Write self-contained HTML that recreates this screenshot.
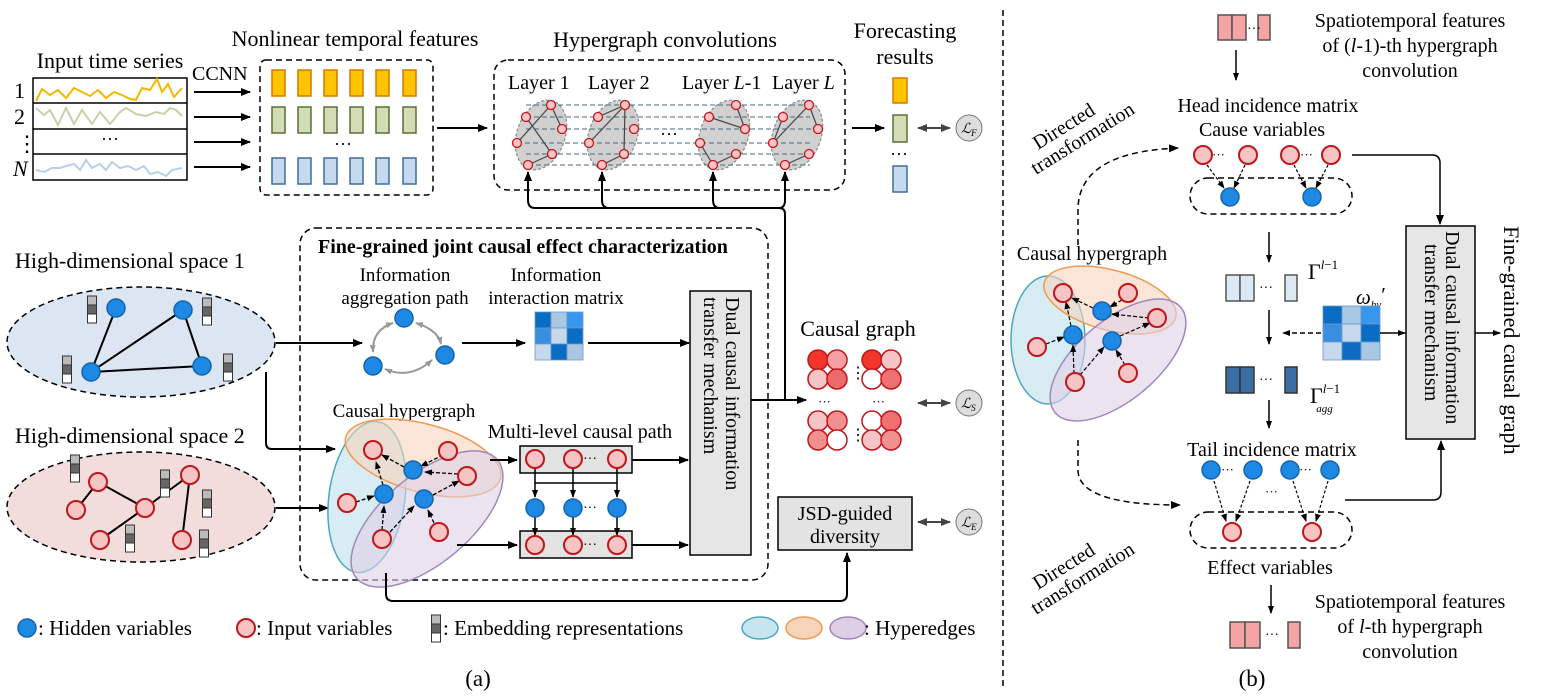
<!DOCTYPE html>
<html><head><meta charset="utf-8"><style>
html,body{margin:0;padding:0;background:#fff}
svg{display:block;font-family:"Liberation Serif",serif}
</style></head><body>
<svg width="1544" height="700" viewBox="0 0 1544 700" xmlns="http://www.w3.org/2000/svg">
<defs>
<marker id="a" markerWidth="10" markerHeight="8" refX="9" refY="4" orient="auto" markerUnits="userSpaceOnUse"><path d="M0,0 L10,4 L0,8 Z" fill="#000"/></marker>
<marker id="as" markerWidth="8" markerHeight="6" refX="7" refY="3" orient="auto" markerUnits="userSpaceOnUse"><path d="M0,0 L8,3 L0,6 Z" fill="#000"/></marker>
<marker id="ag" markerWidth="8" markerHeight="6" refX="7" refY="3" orient="auto-start-reverse" markerUnits="userSpaceOnUse"><path d="M0,0 L8,3 L0,6 Z" fill="#999"/></marker>
<marker id="ad" markerWidth="10" markerHeight="8" refX="9" refY="4" orient="auto-start-reverse" markerUnits="userSpaceOnUse"><path d="M0,0 L10,4 L0,8 Z" fill="#444"/></marker>
<g id="rn"><circle r="9" fill="#f6c4c4" stroke="#c0161c" stroke-width="2"/></g>
<g id="bn"><circle r="9" fill="#1e88e5" stroke="#1565a8" stroke-width="1.5"/></g>
<g id="sn"><circle r="4.5" fill="#f6c4c4" stroke="#c0161c" stroke-width="1.3"/></g>
<g id="emb"><rect x="-4.5" y="0" width="9" height="9" fill="#bbb" stroke="#333"/><rect x="-4.5" y="9" width="9" height="9" fill="#666" stroke="#333"/><rect x="-4.5" y="18" width="9" height="9" fill="#fff" stroke="#333"/></g>
</defs>
<g font-size="22" fill="#000">
<text x="110" y="68" text-anchor="middle">Input time series</text>
<rect x="33" y="78" width="154" height="102" fill="#fff" stroke="#000" stroke-width="1.5"/>
<line x1="33" y1="103" x2="187" y2="103" stroke="#000" stroke-width="1.5"/>
<line x1="33" y1="129" x2="187" y2="129" stroke="#000" stroke-width="1.5"/>
<line x1="33" y1="154" x2="187" y2="154" stroke="#000" stroke-width="1.5"/>
<polyline points="36,101 42,89 50,95 58,90 66,98 74,88 82,92 90,96 98,90 106,98 114,92 122,95 130,99 136,100 142,88 150,90 157,79 162,92 168,84 174,97 182,88" fill="none" stroke="#f5b700" stroke-width="2"/>
<polyline points="36,108 44,115 50,110 58,125 66,108 74,124 82,110 92,124 100,112 110,124 120,112 126,108 136,114 146,116 156,112 164,114 170,108 176,110 182,116" fill="none" stroke="#c5d2a8" stroke-width="2"/>
<polyline points="36,170 44,172 52,168 60,168 66,166 74,164 80,170 86,160 92,168 100,164 106,170 112,162 120,168 128,166 136,170 144,166 150,174 158,172 166,176 172,170 182,168" fill="none" stroke="#b8d0e8" stroke-width="2"/>
<text x="101" y="145" font-size="18">···</text>
<text x="14" y="98">1</text><text x="14" y="124">2</text><text x="16" y="151">⋮</text>
<text x="13" y="176" font-style="italic">N</text>
<text x="192" y="80" font-size="20">CCNN</text>
<line x1="194" y1="92" x2="250" y2="92" stroke="#000" stroke-width="2" marker-end="url(#a)"/>
<line x1="194" y1="117" x2="250" y2="117" stroke="#000" stroke-width="2" marker-end="url(#a)"/>
<line x1="194" y1="142" x2="250" y2="142" stroke="#000" stroke-width="2" marker-end="url(#a)"/>
<line x1="194" y1="167" x2="250" y2="167" stroke="#000" stroke-width="2" marker-end="url(#a)"/>
<text x="355" y="46" text-anchor="middle">Nonlinear temporal features</text>
<rect x="260" y="60" width="173" height="135" rx="6" fill="none" stroke="#000" stroke-width="1.5" stroke-dasharray="6,4"/>
<g stroke-width="1.5">
<g fill="#ffc400" stroke="#d67a00"><rect x="272" y="70" width="13" height="26"/><rect x="298" y="70" width="13" height="26"/><rect x="324" y="70" width="13" height="26"/><rect x="350" y="70" width="13" height="26"/><rect x="376" y="70" width="13" height="26"/><rect x="403" y="70" width="13" height="26"/></g>
<g fill="#d2dcb5" stroke="#5b6e3a"><rect x="272" y="107" width="13" height="26"/><rect x="298" y="107" width="13" height="26"/><rect x="324" y="107" width="13" height="26"/><rect x="350" y="107" width="13" height="26"/><rect x="376" y="107" width="13" height="26"/><rect x="403" y="107" width="13" height="26"/></g>
<g fill="#c5d9ef" stroke="#3f6e9e"><rect x="272" y="158" width="13" height="26"/><rect x="298" y="158" width="13" height="26"/><rect x="324" y="158" width="13" height="26"/><rect x="350" y="158" width="13" height="26"/><rect x="376" y="158" width="13" height="26"/><rect x="403" y="158" width="13" height="26"/></g>
</g>
<text x="334" y="150" font-size="18">···</text>
<line x1="437" y1="128" x2="487" y2="128" stroke="#000" stroke-width="2" marker-end="url(#a)"/>
<text x="665" y="47" text-anchor="middle">Hypergraph convolutions</text>
<rect x="494" y="60" width="351" height="130" rx="14" fill="none" stroke="#000" stroke-width="1.5" stroke-dasharray="6,4"/>
<g font-size="20">
<text x="508" y="89">Layer 1</text><text x="588" y="89">Layer 2</text>
<text x="682" y="89">Layer <tspan font-style="italic">L</tspan>-1</text><text x="772" y="89">Layer <tspan font-style="italic">L</tspan></text>
</g>
<g fill="#d0d0d0" stroke="#888" stroke-dasharray="3,2" stroke-width="1.2">
<ellipse cx="541" cy="135" rx="24" ry="36" transform="rotate(20 541 135)"/>
<ellipse cx="613" cy="135" rx="24" ry="36" transform="rotate(20 613 135)"/>
<ellipse cx="724" cy="135" rx="24" ry="36" transform="rotate(20 724 135)"/>
<ellipse cx="797" cy="135" rx="24" ry="36" transform="rotate(20 797 135)"/>
</g>
<g stroke="#3f6e7e" stroke-dasharray="5,3" stroke-width="1">
<line x1="526" y1="105" x2="810" y2="105"/><line x1="526" y1="117" x2="810" y2="117"/><line x1="526" y1="129" x2="818" y2="129"/><line x1="517" y1="143" x2="810" y2="143"/><line x1="526" y1="154" x2="810" y2="154"/><line x1="528" y1="165" x2="810" y2="165"/>
</g>
<g stroke="#444" stroke-width="1.2">
<line x1="526" y1="117" x2="552" y2="154"/><line x1="551" y1="105" x2="517" y2="143"/><line x1="551" y1="105" x2="562" y2="129"/><line x1="552" y1="154" x2="528" y2="165"/>
<line x1="598" y1="117" x2="625" y2="105"/><line x1="625" y1="105" x2="589" y2="143"/><line x1="625" y1="105" x2="624" y2="154"/><line x1="624" y1="154" x2="602" y2="165"/>
<line x1="709" y1="117" x2="745" y2="129"/><line x1="736" y1="105" x2="745" y2="129"/><line x1="700" y1="143" x2="713" y2="165"/><line x1="736" y1="154" x2="713" y2="165"/>
<line x1="773" y1="143" x2="809" y2="105"/><line x1="783" y1="117" x2="773" y2="143"/><line x1="809" y1="105" x2="818" y2="129"/><line x1="809" y1="154" x2="785" y2="165"/>
</g>
<g>
<use href="#sn" x="551" y="105"/><use href="#sn" x="526" y="117"/><use href="#sn" x="562" y="129"/><use href="#sn" x="517" y="143"/><use href="#sn" x="552" y="154"/><use href="#sn" x="528" y="165"/>
<use href="#sn" x="625" y="105"/><use href="#sn" x="598" y="117"/><use href="#sn" x="634" y="129"/><use href="#sn" x="589" y="143"/><use href="#sn" x="624" y="154"/><use href="#sn" x="602" y="165"/>
<use href="#sn" x="736" y="105"/><use href="#sn" x="709" y="117"/><use href="#sn" x="745" y="129"/><use href="#sn" x="700" y="143"/><use href="#sn" x="736" y="154"/><use href="#sn" x="713" y="165"/>
<use href="#sn" x="809" y="105"/><use href="#sn" x="783" y="117"/><use href="#sn" x="818" y="129"/><use href="#sn" x="773" y="143"/><use href="#sn" x="809" y="154"/><use href="#sn" x="785" y="165"/>
</g>
<text x="660" y="140" font-size="18">···</text>
<text x="905" y="38" text-anchor="middle">Forecasting</text><text x="905" y="64" text-anchor="middle">results</text>
<rect x="893" y="78" width="14" height="25" fill="#ffc400" stroke="#d67a00" stroke-width="1.5"/>
<rect x="893" y="115" width="14" height="27" fill="#d2dcb5" stroke="#5b6e3a" stroke-width="1.5"/>
<text x="890" y="160" font-size="18">···</text>
<rect x="893" y="166" width="14" height="26" fill="#c5d9ef" stroke="#3f6e9e" stroke-width="1.5"/>
<line x1="852" y1="128" x2="884" y2="128" stroke="#000" stroke-width="2" marker-end="url(#a)"/>
<line x1="918" y1="128" x2="950" y2="128" stroke="#444" stroke-width="2" marker-start="url(#ad)" marker-end="url(#ad)"/>
<circle cx="969" cy="128" r="13" fill="#ddd" stroke="#777"/><text x="961" y="133" font-size="14" font-style="italic">ℒ<tspan font-size="9" dy="3">F</tspan></text>
<g fill="none" stroke="#000" stroke-width="2">
<path d="M785,400 V214 Q785,208 779,208 H720 Q713,208 713,200 V172" marker-end="url(#a)"/>
<path d="M779,208 Q785,208 785,200 V172" marker-end="url(#a)"/>
<path d="M720,208 H609 Q602,208 602,200 V172" marker-end="url(#a)"/>
<path d="M609,208 H535 Q528,208 528,200 V172" marker-end="url(#a)"/>
</g>
<text x="15" y="268">High-dimensional space 1</text>
<ellipse cx="141" cy="342" rx="134" ry="55" fill="#dce6f2" stroke="#000" stroke-width="1.5" stroke-dasharray="6,4"/>
<g stroke="#000" stroke-width="2"><line x1="116" y1="308" x2="91" y2="372"/><line x1="91" y1="372" x2="183" y2="310"/><line x1="183" y1="310" x2="202" y2="366"/><line x1="91" y1="372" x2="202" y2="366"/></g>
<use href="#bn" x="116" y="308"/><use href="#bn" x="183" y="310"/><use href="#bn" x="91" y="372"/><use href="#bn" x="202" y="366"/>
<use href="#emb" x="92" y="296"/><use href="#emb" x="207" y="298"/><use href="#emb" x="67" y="356"/><use href="#emb" x="228" y="354"/>
<text x="15" y="443">High-dimensional space 2</text>
<ellipse cx="141" cy="507" rx="134" ry="55" fill="#f3dcdc" stroke="#000" stroke-width="1.5" stroke-dasharray="6,4"/>
<g stroke="#000" stroke-width="2"><line x1="98" y1="482" x2="76" y2="510"/><line x1="98" y1="482" x2="145" y2="508"/><line x1="145" y1="508" x2="190" y2="475"/><line x1="190" y1="475" x2="182" y2="540"/><line x1="145" y1="508" x2="100" y2="540"/></g>
<use href="#rn" x="98" y="482"/><use href="#rn" x="76" y="510"/><use href="#rn" x="145" y="508"/><use href="#rn" x="190" y="475"/><use href="#rn" x="182" y="540"/><use href="#rn" x="100" y="540"/>
<use href="#emb" x="75" y="455"/><use href="#emb" x="165" y="470"/><use href="#emb" x="207" y="490"/><use href="#emb" x="130" y="525"/><use href="#emb" x="204" y="530"/>
<line x1="276" y1="343" x2="362" y2="343" stroke="#000" stroke-width="2" marker-end="url(#a)"/>
<path d="M266,372 V443 Q266,449 272,449 H335" fill="none" stroke="#000" stroke-width="2" marker-end="url(#a)"/>
<line x1="276" y1="508" x2="328" y2="508" stroke="#000" stroke-width="2" marker-end="url(#a)"/>
<rect x="300" y="228" width="468" height="352" rx="16" fill="none" stroke="#000" stroke-width="1.5" stroke-dasharray="6,4"/>
<text x="318" y="253" font-weight="bold" font-size="20">Fine-grained joint causal effect characterization</text>
<g font-size="19">
<text x="405" y="281" text-anchor="middle">Information</text>
<text x="405" y="304" text-anchor="middle">aggregation path</text>
<text x="556" y="281" text-anchor="middle">Information</text>
<text x="556" y="304" text-anchor="middle">interaction matrix</text>
</g>
<g fill="none" stroke="#999" stroke-width="2">
<path d="M393,323 Q372,330 373,352" marker-start="url(#ag)" marker-end="url(#ag)"/>
<path d="M416,323 Q438,330 441,344" marker-start="url(#ag)" marker-end="url(#ag)"/>
<path d="M385,369 Q410,380 432,360" marker-start="url(#ag)" marker-end="url(#ag)"/>
</g>
<use href="#bn" x="404" y="318"/><use href="#bn" x="373" y="366"/><use href="#bn" x="445" y="355"/>
<g stroke="#6a98c8" stroke-width="0.8">
<rect x="535" y="312" width="16" height="16" fill="#0b6cc4"/><rect x="551" y="312" width="16" height="16" fill="#a8c8e4"/><rect x="567" y="312" width="16" height="16" fill="#3897ec"/>
<rect x="535" y="328" width="16" height="16" fill="#3a8ee0"/><rect x="551" y="328" width="16" height="16" fill="#c6d9ec"/><rect x="567" y="328" width="16" height="16" fill="#0b6cc4"/>
<rect x="535" y="344" width="16" height="16" fill="#c6d9ec"/><rect x="551" y="344" width="16" height="16" fill="#0b6cc4"/><rect x="567" y="344" width="16" height="16" fill="#a8c8e4"/>
</g>
<line x1="462" y1="343" x2="525" y2="343" stroke="#000" stroke-width="2" marker-end="url(#a)"/>
<line x1="588" y1="343" x2="689" y2="343" stroke="#000" stroke-width="2" marker-end="url(#a)"/>
<rect x="690" y="291" width="61" height="264" fill="#e6e6e6" stroke="#000" stroke-width="1.5"/>
<text transform="translate(726,297) rotate(90)" font-size="20">Dual causal information</text>
<text transform="translate(704,297) rotate(90)" font-size="20">transfer mechanism</text>
<text x="404" y="417" font-size="19" text-anchor="middle">Causal hypergraph</text>
<g stroke-width="1.5">
<ellipse cx="367" cy="497" rx="38" ry="76" fill="#c8e4ee" fill-opacity="0.7" stroke="#4aa8c0" transform="rotate(8 367 497)"/>
<ellipse cx="423" cy="458" rx="80" ry="34" fill="#f6d4bc" fill-opacity="0.6" stroke="#f09a50" transform="rotate(15 423 458)"/>
<ellipse cx="427" cy="519" rx="92" ry="44" fill="#ddd0e6" fill-opacity="0.6" stroke="#a088bc" transform="rotate(-40 427 519)"/>
</g>
<g stroke="#000" stroke-width="1.3" stroke-dasharray="4,2" fill="none">
<line x1="404" y1="467" x2="382" y2="455" marker-end="url(#as)"/>
<line x1="443" y1="455" x2="421" y2="466" marker-end="url(#as)"/>
<line x1="458" y1="474" x2="425" y2="472" marker-end="url(#as)"/>
<line x1="383" y1="485" x2="376" y2="462" marker-end="url(#as)"/>
<line x1="356" y1="502" x2="374" y2="496" marker-end="url(#as)"/>
<line x1="382" y1="530" x2="384" y2="506" marker-end="url(#as)"/>
<line x1="390" y1="532" x2="414" y2="506" marker-end="url(#as)"/>
<line x1="433" y1="495" x2="459" y2="481" marker-end="url(#as)"/>
<line x1="434" y1="523" x2="428" y2="510" marker-end="url(#as)"/>
</g>
<use href="#rn" x="373" y="450"/><use href="#rn" x="448" y="451"/><use href="#rn" x="467" y="476"/><use href="#rn" x="347" y="503"/><use href="#rn" x="382" y="539"/><use href="#rn" x="439" y="532"/>
<use href="#bn" x="413" y="470"/><use href="#bn" x="384" y="494"/><use href="#bn" x="424" y="499"/>
<text x="580" y="438" font-size="20" text-anchor="middle">Multi-level causal path</text>
<rect x="520" y="446" width="112" height="27" fill="#e3e3e3" stroke="#000" stroke-width="1.5"/>
<rect x="520" y="531" width="112" height="27" fill="#e3e3e3" stroke="#000" stroke-width="1.5"/>
<g stroke="#000" stroke-width="1.5">
<line x1="535" y1="468" x2="535" y2="497" marker-end="url(#as)"/><line x1="573" y1="468" x2="573" y2="497" marker-end="url(#as)"/><line x1="617" y1="468" x2="617" y2="497" marker-end="url(#as)"/>
<line x1="535" y1="483" x2="617" y2="483"/>
<line x1="535" y1="517" x2="535" y2="535" marker-end="url(#as)"/><line x1="573" y1="517" x2="573" y2="535" marker-end="url(#as)"/><line x1="617" y1="517" x2="617" y2="535" marker-end="url(#as)"/>
</g>
<use href="#rn" x="535" y="459"/><use href="#rn" x="573" y="459"/><use href="#rn" x="617" y="459"/>
<use href="#bn" x="535" y="508"/><use href="#bn" x="573" y="508"/><use href="#bn" x="617" y="508"/>
<use href="#rn" x="535" y="545"/><use href="#rn" x="573" y="545"/><use href="#rn" x="617" y="545"/>
<text x="583" y="463" font-size="14">···</text><text x="583" y="512" font-size="14">···</text><text x="583" y="549" font-size="14">···</text>
<line x1="490" y1="460" x2="517" y2="460" stroke="#000" stroke-width="2" marker-end="url(#a)"/>
<line x1="457" y1="545" x2="517" y2="545" stroke="#000" stroke-width="2" marker-end="url(#a)"/>
<line x1="632" y1="460" x2="688" y2="460" stroke="#000" stroke-width="2" marker-end="url(#a)"/>
<line x1="632" y1="545" x2="688" y2="545" stroke="#000" stroke-width="2" marker-end="url(#a)"/>
<line x1="751" y1="400" x2="806" y2="400" stroke="#000" stroke-width="2" marker-end="url(#a)"/>
<text x="858" y="336" text-anchor="middle">Causal graph</text>
<g stroke="#c0161c" stroke-width="1.5">
<circle cx="818" cy="360" r="10" fill="#f2362c"/><circle cx="837" cy="360" r="10" fill="#f4a0a0"/><circle cx="818" cy="379" r="10" fill="#f6c4c4"/><circle cx="837" cy="379" r="10" fill="#ee6a6a"/>
<circle cx="872" cy="360" r="10" fill="#f2362c"/><circle cx="891" cy="360" r="10" fill="#f6c4c4"/><circle cx="872" cy="379" r="10" fill="#fff"/><circle cx="891" cy="379" r="10" fill="#ee7070"/>
<circle cx="818" cy="421" r="10" fill="#f6c4c4"/><circle cx="837" cy="421" r="10" fill="#f29090"/><circle cx="818" cy="440" r="10" fill="#f29090"/><circle cx="837" cy="440" r="10" fill="#fff"/>
<circle cx="872" cy="421" r="10" fill="#fff"/><circle cx="891" cy="421" r="10" fill="#ee7070"/><circle cx="872" cy="440" r="10" fill="#f6c4c4"/><circle cx="891" cy="440" r="10" fill="#f29090"/>
</g>
<text x="850" y="378" font-size="16">⋮</text><text x="850" y="440" font-size="16">⋮</text>
<text x="818" y="406" font-size="13">···</text><text x="872" y="406" font-size="13">···</text>
<line x1="918" y1="403" x2="950" y2="403" stroke="#444" stroke-width="2" marker-start="url(#ad)" marker-end="url(#ad)"/>
<circle cx="969" cy="403" r="13" fill="#ddd" stroke="#777"/><text x="961" y="408" font-size="14" font-style="italic">ℒ<tspan font-size="9" dy="3">S</tspan></text>
<rect x="778" y="497" width="134" height="53" fill="#e3e3e3" stroke="#000" stroke-width="1.5"/>
<text x="845" y="520" text-anchor="middle" font-size="20">JSD-guided</text>
<text x="845" y="543" text-anchor="middle" font-size="20">diversity</text>
<line x1="918" y1="522" x2="950" y2="522" stroke="#444" stroke-width="2" marker-start="url(#ad)" marker-end="url(#ad)"/>
<circle cx="969" cy="522" r="13" fill="#ddd" stroke="#777"/><text x="961" y="527" font-size="14" font-style="italic">ℒ<tspan font-size="9" dy="3">E</tspan></text>
<path d="M386,573 V594 Q386,601 393,601 H840 Q847,601 847,594 V553" fill="none" stroke="#000" stroke-width="2" marker-end="url(#a)"/>
<g font-size="21">
<use href="#bn" x="27" y="628"/><text x="38" y="635">: Hidden variables</text>
<use href="#rn" x="246" y="628"/><text x="256" y="635">: Input variables</text>
<use href="#emb" x="436" y="615"/><text x="443" y="635">: Embedding representations</text>
</g>
<ellipse cx="760" cy="628" rx="18" ry="11" fill="#c8e4ee" stroke="#4aa8c0" stroke-width="1.5"/>
<ellipse cx="804" cy="628" rx="18" ry="11" fill="#f6d4bc" stroke="#f09a50" stroke-width="1.5"/>
<ellipse cx="848" cy="628" rx="18" ry="11" fill="#ddd0e6" stroke="#a088bc" stroke-width="1.5"/>
<text x="864" y="635" font-size="21">: Hyperedges</text>
<text x="478" y="686" font-size="23" text-anchor="middle">(a)</text>
<line x1="1003" y1="10" x2="1003" y2="690" stroke="#000" stroke-width="1.5" stroke-dasharray="6,4"/>
<g font-size="20">
<g fill="#f4a4a4" stroke="#555" stroke-width="1.5"><rect x="1218" y="15" width="14" height="25"/><rect x="1232" y="15" width="14" height="25"/><rect x="1258" y="15" width="12" height="25"/></g>
<text x="1247" y="33" font-size="14">···</text>
<text x="1410" y="27" text-anchor="middle">Spatiotemporal features</text>
<text x="1410" y="52" text-anchor="middle">of (<tspan font-style="italic">l</tspan>-1)-th hypergraph</text>
<text x="1410" y="77" text-anchor="middle">convolution</text>
<line x1="1236" y1="50" x2="1236" y2="80" stroke="#000" stroke-width="1.5" marker-end="url(#as)"/>
<text x="1268" y="112" text-anchor="middle">Head incidence matrix</text>
<text x="1262" y="136" text-anchor="middle">Cause variables</text>
<text transform="translate(1038,150) rotate(-32)">Directed</text>
<text transform="translate(1036,175) rotate(-32)">transformation</text>
<path d="M1078,245 V210 Q1078,152 1178,148" fill="none" stroke="#000" stroke-width="1.5" stroke-dasharray="6,4" marker-end="url(#a)"/>
<use href="#rn" x="1203" y="155"/><use href="#rn" x="1248" y="155"/><use href="#rn" x="1290" y="155"/><use href="#rn" x="1331" y="155"/>
<text x="1212" y="159" font-size="13">···</text><text x="1300" y="159" font-size="13">···</text><text x="1262" y="182" font-size="13">···</text>
<rect x="1190" y="178" width="162" height="36" rx="18" fill="none" stroke="#000" stroke-width="1.5" stroke-dasharray="6,4"/>
<g stroke="#000" stroke-width="1.2" stroke-dasharray="3,2"><line x1="1207" y1="165" x2="1224" y2="188" marker-end="url(#as)"/><line x1="1245" y1="165" x2="1234" y2="188" marker-end="url(#as)"/><line x1="1294" y1="165" x2="1306" y2="188" marker-end="url(#as)"/><line x1="1328" y1="165" x2="1316" y2="188" marker-end="url(#as)"/></g>
<use href="#bn" x="1230" y="197"/><use href="#bn" x="1312" y="197"/>
<path d="M1352,155 H1432 Q1440,155 1440,163 V224" fill="none" stroke="#000" stroke-width="1.5" marker-end="url(#a)"/>
<text x="1092" y="260" text-anchor="middle">Causal hypergraph</text>
<g stroke-width="1.5">
<ellipse cx="1048" cy="340" rx="37" ry="64" fill="#c8e4ee" fill-opacity="0.7" stroke="#4aa8c0"/>
<ellipse cx="1110" cy="300" rx="68" ry="30" fill="#f6d4bc" fill-opacity="0.6" stroke="#f09a50" transform="rotate(15 1110 300)"/>
<ellipse cx="1118" cy="360" rx="82" ry="40" fill="#ddd0e6" fill-opacity="0.6" stroke="#a088bc" transform="rotate(-40 1118 360)"/>
</g>
<g stroke="#000" stroke-width="1.2" stroke-dasharray="4,2"><line x1="1093" y1="308" x2="1072" y2="298" marker-end="url(#as)"/><line x1="1122" y1="300" x2="1110" y2="307" marker-end="url(#as)"/><line x1="1149" y1="318" x2="1112" y2="314" marker-end="url(#as)"/><line x1="1071" y1="326" x2="1066" y2="302" marker-end="url(#as)"/><line x1="1046" y1="344" x2="1064" y2="337" marker-end="url(#as)"/><line x1="1074" y1="374" x2="1073" y2="345" marker-end="url(#as)"/><line x1="1080" y1="375" x2="1104" y2="347" marker-end="url(#as)"/><line x1="1120" y1="336" x2="1150" y2="323" marker-end="url(#as)"/><line x1="1125" y1="365" x2="1116" y2="350" marker-end="url(#as)"/></g>
<use href="#rn" x="1063" y="293"/><use href="#rn" x="1128" y="293"/><use href="#rn" x="1157" y="318"/><use href="#rn" x="1037" y="347"/><use href="#rn" x="1075" y="382"/><use href="#rn" x="1128" y="373"/>
<use href="#bn" x="1102" y="311"/><use href="#bn" x="1073" y="335"/><use href="#bn" x="1112" y="341"/>
<path d="M1078,440 V470 Q1078,505 1180,505" fill="none" stroke="#000" stroke-width="1.5" stroke-dasharray="6,4" marker-end="url(#a)"/>
<text transform="translate(1038,590) rotate(-32)">Directed</text>
<text transform="translate(1036,615) rotate(-32)">transformation</text>
<line x1="1269" y1="232" x2="1269" y2="262" stroke="#000" stroke-width="1.5" marker-end="url(#as)"/>
<g fill="#dce8f4" stroke="#555" stroke-width="1.5"><rect x="1226" y="275" width="14" height="26"/><rect x="1240" y="275" width="14" height="26"/><rect x="1285" y="275" width="12" height="26"/></g>
<text x="1259" y="292" font-size="14">···</text>
<text x="1308" y="279" font-size="22">Γ<tspan font-size="13" dy="-10" font-style="italic">l</tspan><tspan font-size="13">−1</tspan></text>
<line x1="1269" y1="310" x2="1269" y2="344" stroke="#000" stroke-width="1.5" marker-end="url(#as)"/>
<text x="1356" y="304" font-size="21" font-style="italic">ω<tspan font-size="11" dy="4">hv</tspan><tspan dy="-6" font-style="normal">′</tspan></text>
<g stroke="#6a98c8" stroke-width="0.8">
<rect x="1323" y="306" width="19" height="18" fill="#0b6cc4"/><rect x="1342" y="306" width="19" height="18" fill="#a8c8e4"/><rect x="1361" y="306" width="19" height="18" fill="#3897ec"/>
<rect x="1323" y="324" width="19" height="18" fill="#3a8ee0"/><rect x="1342" y="324" width="19" height="18" fill="#c6d9ec"/><rect x="1361" y="324" width="19" height="18" fill="#0b6cc4"/>
<rect x="1323" y="342" width="19" height="18" fill="#c6d9ec"/><rect x="1342" y="342" width="19" height="18" fill="#0b6cc4"/><rect x="1361" y="342" width="19" height="18" fill="#a8c8e4"/>
</g>
<line x1="1321" y1="333" x2="1283" y2="333" stroke="#000" stroke-width="1.5" stroke-dasharray="5,3" marker-end="url(#as)"/>
<line x1="1380" y1="333" x2="1405" y2="333" stroke="#000" stroke-width="1.5" marker-end="url(#as)"/>
<g fill="#3a6ea5" stroke="#333" stroke-width="1.5"><rect x="1226" y="367" width="14" height="26"/><rect x="1240" y="367" width="14" height="26"/><rect x="1285" y="367" width="12" height="26"/></g>
<text x="1259" y="384" font-size="14">···</text>
<text x="1310" y="403" font-size="22">Γ<tspan font-size="13" dy="-10" font-style="italic">l</tspan><tspan font-size="13">−1</tspan><tspan font-size="11" dx="-24" dy="19" font-style="italic">agg</tspan></text>
<line x1="1269" y1="400" x2="1269" y2="428" stroke="#000" stroke-width="1.5" marker-end="url(#as)"/>
<rect x="1406" y="226" width="69" height="213" fill="#e6e6e6" stroke="#000" stroke-width="1.5"/>
<text transform="translate(1446,231) rotate(90)" font-size="20">Dual causal information</text>
<text transform="translate(1425,244) rotate(90)" font-size="20">transfer mechanism</text>
<line x1="1475" y1="333" x2="1500" y2="333" stroke="#000" stroke-width="1.5" marker-end="url(#as)"/>
<text transform="translate(1504,226) rotate(90)" font-size="22">Fine-grained causal graph</text>
<text x="1272" y="456" text-anchor="middle">Tail incidence matrix</text>
<use href="#bn" x="1211" y="470"/><use href="#bn" x="1253" y="470"/><use href="#bn" x="1290" y="470"/><use href="#bn" x="1330" y="470"/>
<text x="1221" y="474" font-size="13">···</text><text x="1299" y="474" font-size="13">···</text><text x="1265" y="496" font-size="13">···</text>
<rect x="1190" y="512" width="162" height="36" rx="18" fill="none" stroke="#000" stroke-width="1.5" stroke-dasharray="6,4"/>
<g stroke="#000" stroke-width="1.2" stroke-dasharray="3,2"><line x1="1214" y1="481" x2="1226" y2="521" marker-end="url(#as)"/><line x1="1250" y1="481" x2="1236" y2="521" marker-end="url(#as)"/><line x1="1293" y1="481" x2="1306" y2="521" marker-end="url(#as)"/><line x1="1328" y1="481" x2="1316" y2="521" marker-end="url(#as)"/></g>
<use href="#rn" x="1232" y="532"/><use href="#rn" x="1312" y="532"/>
<path d="M1345,500 H1433 Q1441,500 1441,492 V441" fill="none" stroke="#000" stroke-width="1.5" marker-end="url(#a)"/>
<text x="1270" y="574" text-anchor="middle">Effect variables</text>
<line x1="1271" y1="585" x2="1271" y2="613" stroke="#000" stroke-width="1.5" marker-end="url(#as)"/>
<g fill="#f4a4a4" stroke="#555" stroke-width="1.5"><rect x="1230" y="622" width="15" height="26"/><rect x="1245" y="622" width="15" height="26"/><rect x="1288" y="622" width="12" height="26"/></g>
<text x="1265" y="639" font-size="14">···</text>
<text x="1410" y="608" text-anchor="middle">Spatiotemporal features</text>
<text x="1410" y="633" text-anchor="middle">of <tspan font-style="italic">l</tspan>-th hypergraph</text>
<text x="1410" y="658" text-anchor="middle">convolution</text>
<text x="1252" y="686" font-size="23" text-anchor="middle">(b)</text>
</g>
</g>
</svg>
</body></html>
